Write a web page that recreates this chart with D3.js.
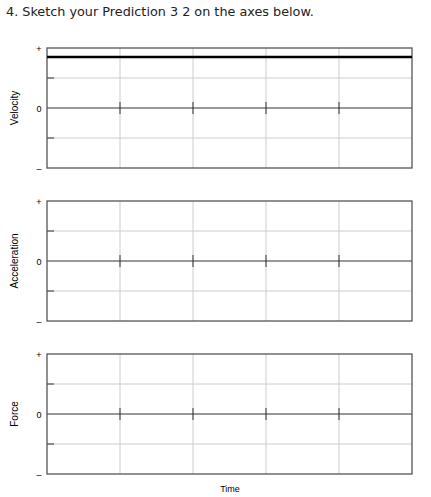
<!DOCTYPE html><html><head><meta charset="utf-8"><script src="https://cdn.jsdelivr.net/npm/d3@7"></script>
<style>body{margin:0;background:#fff}</style></head><body><svg id="c" width="431" height="497"></svg>
<script>
const panels=["Velocity","Acceleration","Force"];
const panelTops=[48,201,354];
const yTickLabels=["+","0","–"];
const timeDivisions=[0,1,2,3,4,5];
const sketchLines=[{panel:"Velocity",value:0.85}];
const svg=d3.select("#c");
svg.append("text").attr("x",6).attr("y",16).attr("font-family","DejaVu Sans").attr("font-size",12.8).attr("fill","#222").text("4. Sketch your Prediction 3 2 on the axes below.");
const x=d3.scaleLinear().domain([0,5]).range([47,412]);
panels.forEach((p,i)=>{
  const t=panelTops[i];
  const y=d3.scaleLinear().domain([-1,1]).range([t+120,t]);
  const g=svg.append("g");
  timeDivisions.slice(1,5).forEach(d=>g.append("line").attr("x1",x(d)).attr("x2",x(d)).attr("y1",y(1)).attr("y2",y(-1)).attr("stroke","#ccc"));
  [0.5,-0.5].forEach(v=>{g.append("line").attr("x1",x(0)).attr("x2",x(5)).attr("y1",y(v)).attr("y2",y(v)).attr("stroke","#ccc");
    g.append("line").attr("x1",x(0)).attr("x2",x(0)+7).attr("y1",y(v)).attr("y2",y(v)).attr("stroke","#333");});
  g.append("line").attr("x1",x(0)).attr("x2",x(5)).attr("y1",y(0)).attr("y2",y(0)).attr("stroke","#333");
  timeDivisions.slice(1,5).forEach(d=>g.append("line").attr("x1",x(d)).attr("x2",x(d)).attr("y1",y(0)-6).attr("y2",y(0)+6).attr("stroke","#333"));
  g.append("rect").attr("x",x(0)).attr("y",y(1)).attr("width",x(5)-x(0)).attr("height",y(-1)-y(1)).attr("fill","none").attr("stroke","#555").attr("stroke-width",1.3);
  [1,0,-1].forEach((v,k)=>g.append("text").attr("x",39).attr("y",y(v)+4).attr("text-anchor","middle").attr("font-family","Liberation Sans").attr("font-size",9).text(yTickLabels[k]));
  g.append("text").attr("transform",`translate(18,${y(0)}) rotate(-90)`).attr("text-anchor","middle").attr("font-family","Liberation Sans").attr("font-size",10).text(p);
  sketchLines.filter(s=>s.panel===p).forEach(s=>g.append("line").attr("x1",x(0)).attr("x2",x(5)).attr("y1",y(s.value)).attr("y2",y(s.value)).attr("stroke","#000").attr("stroke-width",2.5));
});
svg.append("text").attr("x",230).attr("y",492).attr("text-anchor","middle").attr("font-family","Liberation Sans").attr("font-size",9).text("Time");
</script></body></html>
